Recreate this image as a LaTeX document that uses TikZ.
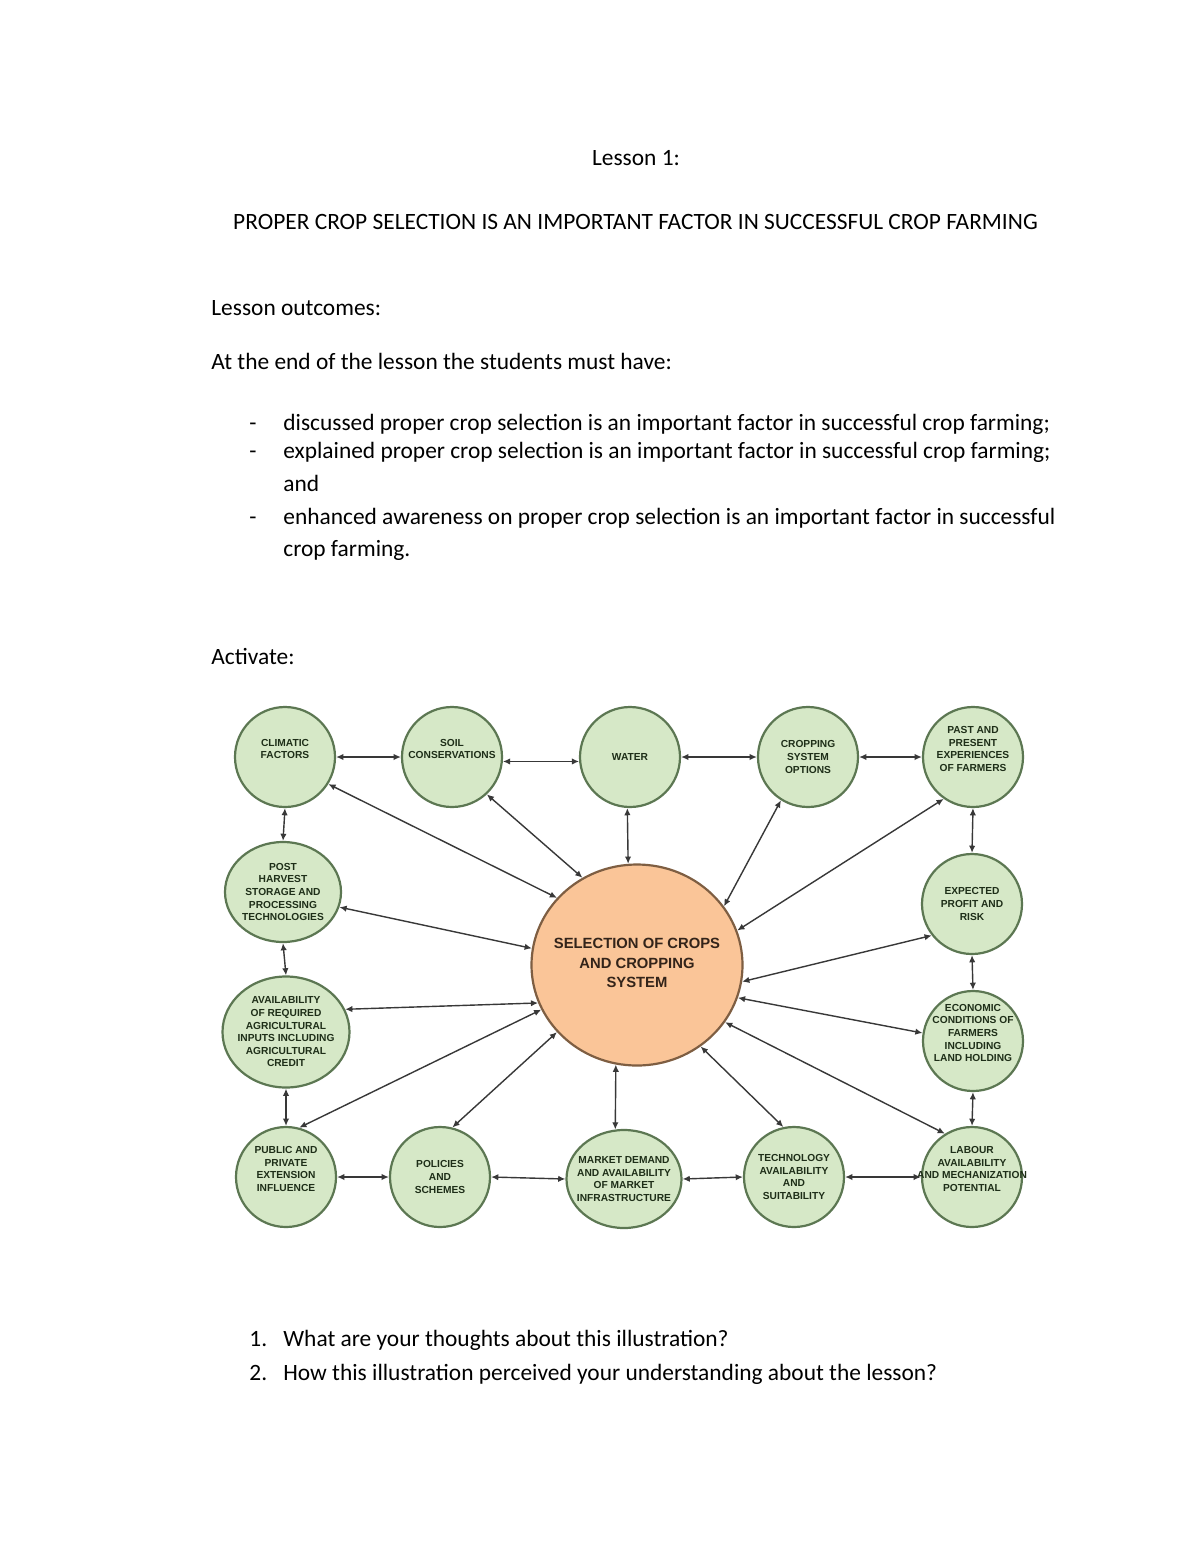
\documentclass[tikz,border=0pt]{standalone}
\usepackage{fontspec}
\setmainfont{Carlito}
\newfontfamily\diagfont{Liberation Sans}
\usetikzlibrary{shapes.geometric,arrows.meta}
\definecolor{bubfill}{HTML}{D6E8C7}
\definecolor{bubline}{HTML}{5C7752}
\definecolor{bubtext}{HTML}{1E2E18}
\definecolor{midfill}{HTML}{FAC598}
\definecolor{midline}{HTML}{7E5E42}
\definecolor{midtext}{HTML}{33241A}
\definecolor{linkcol}{HTML}{383838}

\begin{document}
\begin{tikzpicture}[x=0.5pt,y=-0.5pt,>={Latex[length=3.6pt,width=3.2pt]},
  txt/.style={font=\fontsize{11.7}{14}\selectfont,anchor=base west,inner sep=0},
  bubtxt/.style={font=\diagfont\bfseries\fontsize{5.1}{6.3}\selectfont,align=center,text=bubtext,inner sep=0},
  bub/.style={ellipse,draw=bubline,fill=bubfill,line width=1.1pt,inner sep=0,minimum width=50pt,minimum height=50pt},
  lbl/.style={label={[bubtxt]center:#1}},
  lblup/.style={label={[bubtxt,yshift=4pt]center:#1}},
  link/.style={<->,draw=linkcol,line width=0.7pt}]
  \fill[white] (0,0) rectangle (1200,1553);
  \useasboundingbox (0,0) rectangle (1200,1553);

  \node[txt,anchor=base] (lesson) at (636,165) {Lesson 1:};
  \node[txt,anchor=base] (topic) at (635.5,229) {PROPER CROP SELECTION IS AN IMPORTANT FACTOR IN SUCCESSFUL CROP FARMING};
  \node[txt] (outcomes) at (211,315) {Lesson outcomes:};
  \node[txt] (intro) at (211,369) {At the end of the lesson the students must have:};
  \node[txt] (dash1) at (249,430) {-};
  \node[txt] (item1) at (283,430) {discussed proper crop selection is an important factor in successful crop farming;};
  \node[txt] (dash2) at (249,458) {-};
  \node[txt] (item2) at (283,458) {explained proper crop selection is an important factor in successful crop farming;};
  \node[txt] (item2b) at (283,491) {and};
  \node[txt] (dash3) at (249,524) {-};
  \node[txt] (item3) at (283,524) {enhanced awareness on proper crop selection is an important factor in successful};
  \node[txt] (item3b) at (283,556) {crop farming.};
  \node[txt] (activate) at (211,664) {Activate:};
  \node[txt] (num1) at (249,1346) {1.};
  \node[txt] (ques1) at (283,1346) {What are your thoughts about this illustration?};
  \node[txt] (num2) at (249,1380) {2.};
  \node[txt] (ques2) at (283,1380) {How this illustration perceived your understanding about the lesson?};

  \node[bub,lblup={CLIMATIC\\FACTORS}] (clim) at (285,757) {};
  \node[bub,lblup={SOIL\\CONSERVATIONS}] (soil) at (452,757) {};
  \node[bub,lbl={WATER}] (water) at (630,757) {};
  \node[bub,lbl={CROPPING\\SYSTEM\\OPTIONS}] (crop) at (808,757) {};
  \node[bub,lblup={PAST AND\\PRESENT\\EXPERIENCES\\OF FARMERS}] (past) at (973,757) {};
  \node[bub,minimum width=58pt,lbl={POST\\HARVEST\\STORAGE AND\\PROCESSING\\TECHNOLOGIES}] (post) at (283,892) {};
  \node[bub,minimum width=63.5pt,minimum height=55.5pt,lbl={AVAILABILITY\\OF REQUIRED\\AGRICULTURAL\\INPUTS INCLUDING\\AGRICULTURAL\\CREDIT}] (avail) at (286,1032) {};
  \node[bub,lblup={PUBLIC AND\\PRIVATE\\EXTENSION\\INFLUENCE}] (public) at (286,1177) {};
  \node[bub,lbl={POLICIES\\AND\\SCHEMES}] (policy) at (440,1177) {};
  \node[bub,minimum width=57.5pt,minimum height=49pt,lbl={MARKET DEMAND\\AND AVAILABILITY\\OF MARKET\\INFRASTRUCTURE}] (market) at (624,1179) {};
  \node[bub,lbl={TECHNOLOGY\\AVAILABILITY\\AND\\SUITABILITY}] (tech) at (794,1177) {};
  \node[bub,lblup={LABOUR\\AVAILABILITY\\AND MECHANIZATION\\POTENTIAL}] (labour) at (972,1177) {};
  \node[bub,lblup={ECONOMIC\\CONDITIONS OF\\FARMERS\\INCLUDING\\LAND HOLDING}] (econ) at (973,1041) {};
  \node[bub,lbl={EXPECTED\\PROFIT AND\\RISK}] (profit) at (972,904) {};
  \node[ellipse,draw=midline,fill=midfill,line width=1.1pt,inner sep=0,minimum width=105.5pt,minimum height=100.5pt,
    label={[font=\diagfont\bfseries\fontsize{7.4}{9.8}\selectfont,align=center,text=midtext,inner sep=0,yshift=1pt]center:SELECTION OF CROPS\\AND CROPPING\\SYSTEM}] (sel) at (637,965) {};

  \draw[link] (clim.east) -- (soil.west);
  \draw[link] (soil.-5) -- (water.185);
  \draw[link] (water.east) -- (crop.west);
  \draw[link] (crop.east) -- (past.west);
  \draw[link] (public.east) -- (policy.west);
  \draw[link] (policy.east) -- (market.west);
  \draw[link] (market.east) -- (tech.west);
  \draw[link] (tech.east) -- (labour.west);
  \draw[link] (clim.south) -- (post.north);
  \draw[link] (post.south) -- (avail.north);
  \draw[link] (avail.south) -- (public.north);
  \draw[link] (past.south) -- (profit.north);
  \draw[link] (profit.south) -- (econ.north);
  \draw[link] (econ.south) -- (labour.north);
  \foreach \n/\a/\b in {clim/-32/140,soil/-47/122,water/-93/95,crop/-122/34,past/-125/19,
    profit/-142/-9,econ/171/-18,labour/122/-33,tech/102/-52,market/100/-102,
    policy/76/-140,public/75/-155,avail/21/-159,post/-15/171}
    \draw[link] (\n.\a) -- (sel.\b);
\end{tikzpicture}
\end{document}
